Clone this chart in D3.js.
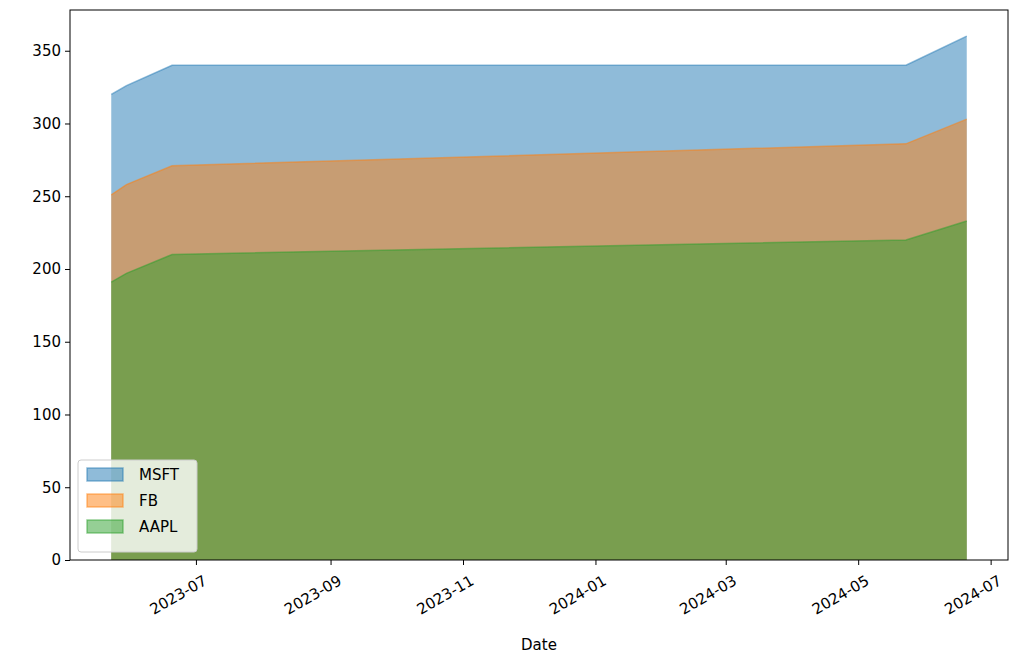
<!DOCTYPE html>
<html>
<head>
<meta charset="UTF-8">
<style>
  body { margin: 0; background: #fff; font-family: "DejaVu Sans", sans-serif; }
</style>
</head>
<body>
<svg width="1015" height="664"></svg>
<script src="https://d3js.org/d3.v7.min.js"></script>
<script>
// Data (stacked tops)
const dates = ["2023-05-23", "2023-05-30", "2023-06-20", "2024-05-23", "2024-06-20"];
const aapl = [191, 197, 210, 220, 233];
const fb = [60, 61, 61, 66, 70];
const msft = [69, 68, 69, 54, 57];
const xTicks = ["2023-07", "2023-09", "2023-11", "2024-01", "2024-03", "2024-05", "2024-07"];
const yTicks = [0, 50, 100, 150, 200, 250, 300, 350];

// Layout
const margin = { left: 70, right: 1008, top: 10, bottom: 560 };
const parse = d3.timeParse("%Y-%m-%d");
const rows = dates.map((d, i) => ({
  date: parse(d),
  aapl: aapl[i],
  fb: aapl[i] + fb[i],
  msft: aapl[i] + fb[i] + msft[i],
}));

const x = d3.scaleTime()
  .domain([parse("2023-05-04"), parse("2024-07-09")])
  .range([margin.left, margin.right]);
const y = d3.scaleLinear().domain([0, 378]).range([margin.bottom, margin.top]);

const svg = d3.select("svg");

// Series, drawn from zero so they overlap like the original
const series = [
  { key: "msft", label: "MSFT", color: "#1f77b4" },
  { key: "fb", label: "FB", color: "#ff7f0e" },
  { key: "aapl", label: "AAPL", color: "#2ca02c" },
];

series.forEach(s => {
  const area = d3.area().x(d => x(d.date)).y0(y(0)).y1(d => y(d[s.key]));
  const line = d3.line().x(d => x(d.date)).y(d => y(d[s.key]));
  svg.append("path").attr("d", area(rows))
    .attr("fill", s.color).attr("fill-opacity", 0.5);
  svg.append("path").attr("d", line(rows))
    .attr("fill", "none").attr("stroke", s.color)
    .attr("stroke-opacity", 0.5).attr("stroke-width", 1.5);
});

// Frame
svg.append("rect")
  .attr("x", margin.left).attr("y", margin.top)
  .attr("width", margin.right - margin.left).attr("height", margin.bottom - margin.top)
  .attr("fill", "none").attr("stroke", "#000").attr("stroke-width", 1);

// Y axis
const yAxis = svg.append("g")
  .attr("transform", `translate(${margin.left},0)`)
  .call(d3.axisLeft(y).tickValues(yTicks).tickSize(5).tickPadding(4));
yAxis.select(".domain").remove();
yAxis.selectAll("text").attr("font-size", 15).attr("fill", "#000")
  .attr("font-family", "DejaVu Sans");

// X axis
const xAxis = svg.append("g")
  .attr("transform", `translate(0,${margin.bottom})`)
  .call(d3.axisBottom(x).tickValues(xTicks.map(t => parse(t + "-01")))
    .tickFormat(d3.timeFormat("%Y-%m")).tickSize(5));
xAxis.select(".domain").remove();
xAxis.selectAll("text")
  .attr("font-size", 15).attr("fill", "#000").attr("font-family", "DejaVu Sans")
  .attr("text-anchor", "end")
  .attr("dy", null).attr("y", 0)
  .attr("transform", "translate(6,14) rotate(-30)")
  .attr("dominant-baseline", "hanging");

svg.append("text")
  .attr("x", (margin.left + margin.right) / 2).attr("y", 650)
  .attr("text-anchor", "middle").attr("font-size", 15).text("Date");

// Legend
const lg = svg.append("g").attr("transform", "translate(78,460)");
lg.append("rect").attr("width", 119).attr("height", 92).attr("rx", 3)
  .attr("fill", "#fff").attr("fill-opacity", 0.8).attr("stroke", "#ccc");
series.forEach((s, i) => {
  const g = lg.append("g").attr("transform", `translate(9,${8 + i * 26})`);
  g.append("rect").attr("width", 36).attr("height", 13)
    .attr("fill", s.color).attr("fill-opacity", 0.5)
    .attr("stroke", s.color).attr("stroke-opacity", 0.5).attr("stroke-width", 1.5);
  g.append("text").attr("x", 52).attr("y", 12).attr("font-size", 15).text(s.label);
});
</script>
</body>
</html>
